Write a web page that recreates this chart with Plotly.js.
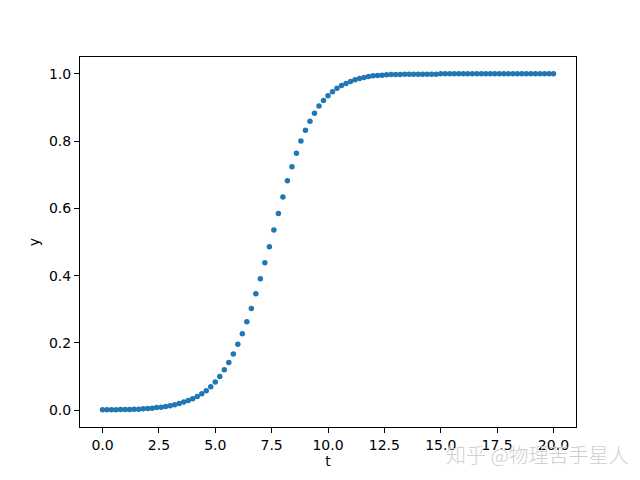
<!DOCTYPE html>
<html>
<head>
<meta charset="utf-8">
<script src="https://cdn.plot.ly/plotly-3.0.1.min.js"></script>
<style>html,body{margin:0;padding:0;background:#fff;}</style>
</head>
<body>
<div id="chart" style="width:640px;height:480px;"></div>
<script>
// t sampled from 0 to 20 in steps of 0.2 (101 points)
const tValues = [
  0.0, 0.2, 0.4, 0.6, 0.8, 1.0, 1.2, 1.4, 1.6, 1.8,
  2.0, 2.2, 2.4, 2.6, 2.8, 3.0, 3.2, 3.4, 3.6, 3.8,
  4.0, 4.2, 4.4, 4.6, 4.8, 5.0, 5.2, 5.4, 5.6, 5.8,
  6.0, 6.2, 6.4, 6.6, 6.8, 7.0, 7.2, 7.4, 7.6, 7.8,
  8.0, 8.2, 8.4, 8.6, 8.8, 9.0, 9.2, 9.4, 9.6, 9.8,
  10.0, 10.2, 10.4, 10.6, 10.8, 11.0, 11.2, 11.4, 11.6, 11.8,
  12.0, 12.2, 12.4, 12.6, 12.8, 13.0, 13.2, 13.4, 13.6, 13.8,
  14.0, 14.2, 14.4, 14.6, 14.8, 15.0, 15.2, 15.4, 15.6, 15.8,
  16.0, 16.2, 16.4, 16.6, 16.8, 17.0, 17.2, 17.4, 17.6, 17.8,
  18.0, 18.2, 18.4, 18.6, 18.8, 19.0, 19.2, 19.4, 19.6, 19.8,
  20.0
];
const yValues = [
  0.001, 0.001, 0.001, 0.001, 0.002, 0.002, 0.002, 0.003, 0.003, 0.004,
  0.005, 0.006, 0.008, 0.009, 0.011, 0.013, 0.016, 0.020, 0.024, 0.029,
  0.034, 0.041, 0.049, 0.058, 0.070, 0.084, 0.100, 0.120, 0.142, 0.167,
  0.196, 0.227, 0.263, 0.302, 0.346, 0.391, 0.438, 0.486, 0.536, 0.585,
  0.634, 0.682, 0.724, 0.764, 0.800, 0.832, 0.859, 0.883, 0.904, 0.921,
  0.935, 0.947, 0.957, 0.965, 0.971, 0.977, 0.982, 0.986, 0.989, 0.992,
  0.994, 0.995, 0.996, 0.997, 0.998, 0.998, 0.998, 0.999, 0.999, 0.999,
  0.999, 0.999, 0.999, 0.999, 0.999, 1.000, 1.000, 1.000, 1.000, 1.000,
  1.000, 1.000, 1.000, 1.000, 1.000, 1.000, 1.000, 1.000, 1.000, 1.000,
  1.000, 1.000, 1.000, 1.000, 1.000, 1.000, 1.000, 1.000, 1.000, 1.000,
  1.000
];
const xTickVals = [0, 2.5, 5, 7.5, 10, 12.5, 15, 17.5, 20];
const xTickText = ["0.0", "2.5", "5.0", "7.5", "10.0", "12.5", "15.0", "17.5", "20.0"];
const yTickVals = [0, 0.2, 0.4, 0.6, 0.8, 1.0];
const yTickText = ["0.0", "0.2", "0.4", "0.6", "0.8", "1.0"];
const xLabel = "t";
const yLabel = "y";
const watermark = "知乎 @物理苦手星人";

const font = {family: "DejaVu Sans, sans-serif", size: 14, color: "#000"};

const trace = {
  x: tValues, y: yValues, type: "scatter", mode: "markers",
  marker: {color: "#1f77b4", size: 5.5},
  hoverinfo: "skip"
};

const axisCommon = {
  showgrid: false, zeroline: false, showline: true, mirror: true,
  linecolor: "#000", linewidth: 1, ticks: "outside", ticklen: 5,
  tickwidth: 1, tickcolor: "#000", tickfont: font
};

const layout = {
  width: 640, height: 480,
  margin: {l: 80, r: 64, t: 57, b: 53, pad: 0},
  paper_bgcolor: "#fff", plot_bgcolor: "#fff",
  showlegend: false,
  font: font,
  xaxis: Object.assign({}, axisCommon, {
    range: [-1, 21], tickvals: xTickVals, ticktext: xTickText,
    title: {text: xLabel, font: font, standoff: 4}
  }),
  yaxis: Object.assign({}, axisCommon, {
    range: [-0.05, 1.05], tickvals: yTickVals, ticktext: yTickText,
    title: {text: yLabel, font: font, standoff: 6}
  }),
  annotations: [{
    text: watermark, xref: "paper", yref: "paper",
    x: 0.923, y: -0.073, xanchor: "center", yanchor: "middle",
    showarrow: false,
    font: {family: "Noto Sans CJK SC, sans-serif", size: 20, color: "#cfcfcf", weight: 300}
  }]
};

Plotly.newPlot("chart", [trace], layout, {displayModeBar: false, staticPlot: true});
</script>
</body>
</html>
